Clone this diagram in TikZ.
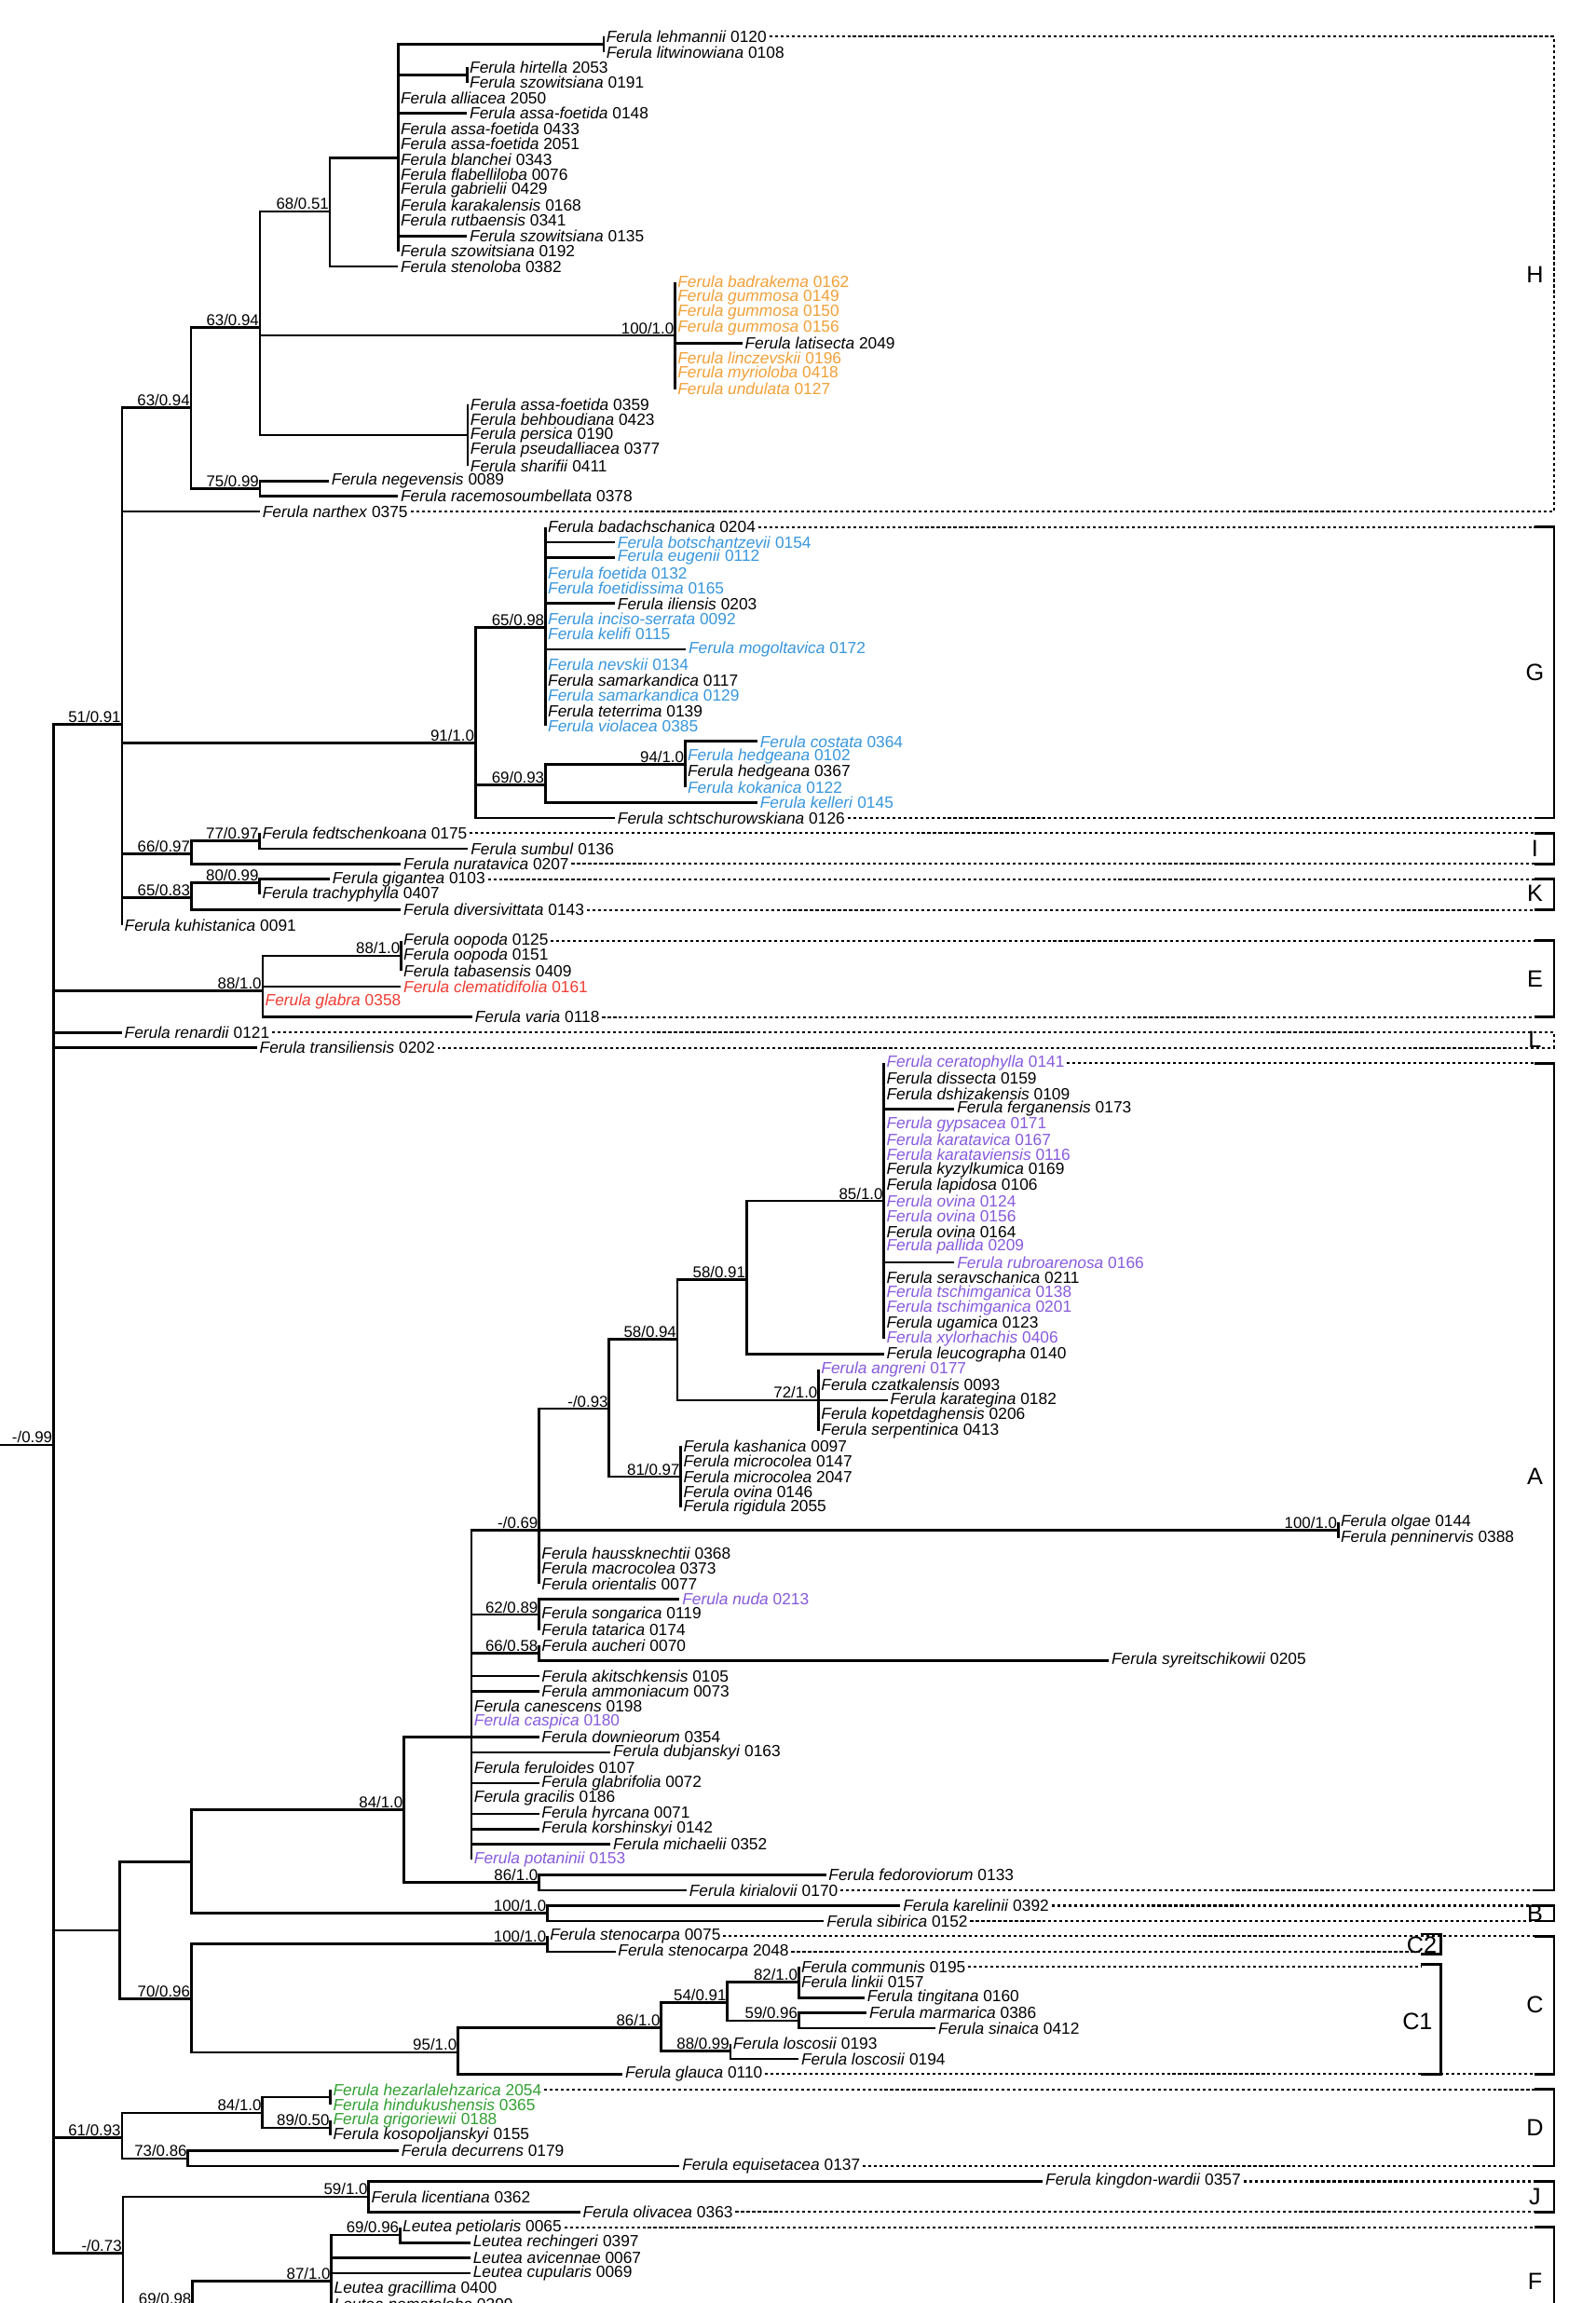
\documentclass[tikz,border=0pt]{standalone}
\usepackage{fontspec}
\usetikzlibrary{calc}
\setmainfont{Liberation Sans}
\definecolor{cor}{RGB}{242,160,55}
\definecolor{cbl}{RGB}{55,150,220}
\definecolor{cpu}{RGB}{135,90,220}
\definecolor{cre}{RGB}{240,60,50}
\definecolor{cgr}{RGB}{50,160,50}
\tikzset{
  leaf/.style={anchor=west,inner xsep=1.6pt,inner ysep=0pt,font=\fontsize{11}{11}\selectfont},
  bsl/.style={anchor=south east,inner xsep=0.6pt,inner ysep=1pt,font=\fontsize{10.7}{10.7}\selectfont},
  br/.style={line width=1.7pt,line join=miter},
  dl/.style={line width=1.3pt,dash pattern=on 2pt off 1.8pt},
  bk/.style={line width=1.8pt,line join=miter},
  grp/.style={font=\fontsize{16}{16}\selectfont,inner sep=0pt}
}
\newcommand\lf[6][black]{\node[leaf,text=#1] (#2) at (#3,{-25-10.43*#4}) {\textit{#5} #6};}
\newcommand\bsv[2]{\node[bsl] at (#1) {#2};}
\begin{document}
\begin{tikzpicture}[x=1pt,y=1pt]
\useasboundingbox (0,0) rectangle (1086,-1568);
\fill[white] (0,0) rectangle (1086,-1568);
\clip (0,0) rectangle (1086,-1568);
% ---------- internal nodes
\coordinate (r0) at (0,-983.8);
\coordinate (r) at (36.4,-983.8);
\coordinate (c51) at (83,-493);
\coordinate (cH63) at (130,-277.6);
\coordinate (cH63i) at (177,-223);
\coordinate (c68) at (224.6,-144);
\coordinate (cpoly) at (271,-107.6);
\coordinate (cleh) at (411,-30.2);
\coordinate (chirt) at (318,-51.1);
\coordinate (c100o) at (459.5,-228.4);
\coordinate (cassa) at (318.5,-296.2);
\coordinate (c75) at (177,-332.7);
\coordinate (cG91) at (323.6,-505.7);
\coordinate (c65G) at (371.3,-427);
\coordinate (c69G) at (371.3,-534.6);
\coordinate (c94) at (466.4,-520.5);
\coordinate (cI66) at (130.2,-581.5);
\coordinate (c77) at (176.8,-572.6);
\coordinate (cK65) at (130.2,-611);
\coordinate (c80) at (176.8,-601);
\coordinate (cE88) at (178.8,-674.7);
\coordinate (cE88i) at (273,-650.8);
\coordinate (cABC) at (81.7,-1314.2);
\coordinate (cAB) at (130.2,-1267.6);
\coordinate (c84A) at (275,-1232.3);
\coordinate (cApoly) at (321,-1182.7);
\coordinate (c69A) at (367,-1041.9);
\coordinate (c93) at (414.7,-959.1);
\coordinate (c58a) at (461.2,-912);
\coordinate (c58b) at (508.2,-871.1);
\coordinate (c85) at (601.8,-817.7);
\coordinate (c72) at (557.3,-953.3);
\coordinate (c81) at (463.5,-1005.4);
\coordinate (c100A) at (911,-1041.9);
\coordinate (c62) at (367,-1099.3);
\coordinate (c66A) at (367,-1125.4);
\coordinate (c86A) at (367,-1281.8);
\coordinate (cB) at (372.6,-1302.7);
\coordinate (cC70) at (130.2,-1360.7);
\coordinate (cC2) at (372.6,-1323.5);
\coordinate (c95) at (311.7,-1397.3);
\coordinate (c86C) at (450.2,-1380.4);
\coordinate (c54) at (495.2,-1363.4);
\coordinate (c82) at (543.7,-1349.6);
\coordinate (c59C) at (543.7,-1375.7);
\coordinate (c88C) at (497.3,-1396.5);
\coordinate (cD61) at (83,-1455.2);
\coordinate (c84D) at (178.7,-1438.6);
\coordinate (chez) at (225,-1427.8);
\coordinate (c89) at (225,-1448.7);
\coordinate (c73) at (128,-1469.6);
\coordinate (cF73) at (83.7,-1534.1);
\coordinate (c59J) at (251,-1495.7);
\coordinate (c69F) at (131,-1570);
\coordinate (c87) at (225.7,-1553);
\coordinate (c69L) at (272.3,-1521.7);
\coordinate (bx) at (1045,0);
\coordinate (bxr) at (1058,0);
\coordinate (bxc) at (967,0);
\coordinate (bxcr) at (981,0);
% ---------- leaves: H
\lf{L0}{411}{0}{Ferula lehmannii}{0120}
\lf{L1}{411}{1}{Ferula litwinowiana}{0108}
\lf{L2}{318}{2}{Ferula hirtella}{2053}
\lf{L3}{318}{3}{Ferula szowitsiana}{0191}
\lf{L4}{271}{4}{Ferula alliacea}{2050}
\lf{L5}{318}{5}{Ferula assa-foetida}{0148}
\lf{L6}{271}{6}{Ferula assa-foetida}{0433}
\lf{L7}{271}{7}{Ferula assa-foetida}{2051}
\lf{L8}{271}{8}{Ferula blanchei}{0343}
\lf{L9}{271}{9}{Ferula flabelliloba}{0076}
\lf{L10}{271}{10}{Ferula gabrielii}{0429}
\lf{L11}{271}{11}{Ferula karakalensis}{0168}
\lf{L12}{271}{12}{Ferula rutbaensis}{0341}
\lf{L13}{318}{13}{Ferula szowitsiana}{0135}
\lf{L14}{271}{14}{Ferula szowitsiana}{0192}
\lf{L15}{271}{15}{Ferula stenoloba}{0382}
\lf[cor]{L16}{459.5}{16}{Ferula badrakema}{0162}
\lf[cor]{L17}{459.5}{17}{Ferula gummosa}{0149}
\lf[cor]{L18}{459.5}{18}{Ferula gummosa}{0150}
\lf[cor]{L19}{459.5}{19}{Ferula gummosa}{0156}
\lf{L20}{505.4}{20}{Ferula latisecta}{2049}
\lf[cor]{L21}{459.5}{21}{Ferula linczevskii}{0196}
\lf[cor]{L22}{459.5}{22}{Ferula myrioloba}{0418}
\lf[cor]{L23}{459.5}{23}{Ferula undulata}{0127}
\lf{L24}{318.5}{24}{Ferula assa-foetida}{0359}
\lf{L25}{318.5}{25}{Ferula behboudiana}{0423}
\lf{L26}{318.5}{26}{Ferula persica}{0190}
\lf{L27}{318.5}{27}{Ferula pseudalliacea}{0377}
\lf{L28}{318.5}{28}{Ferula sharifii}{0411}
\lf{L29}{224}{29}{Ferula negevensis}{0089}
\lf{L30}{271}{30}{Ferula racemosoumbellata}{0378}
\lf{L31}{177}{31}{Ferula narthex}{0375}
% G
\lf{L32}{371.3}{32}{Ferula badachschanica}{0204}
\lf[cbl]{L33}{418.7}{33}{Ferula botschantzevii}{0154}
\lf[cbl]{L34}{418.7}{34}{Ferula eugenii}{0112}
\lf[cbl]{L35}{371.3}{35}{Ferula foetida}{0132}
\lf[cbl]{L36}{371.3}{36}{Ferula foetidissima}{0165}
\lf{L37}{418.7}{37}{Ferula iliensis}{0203}
\lf[cbl]{L38}{371.3}{38}{Ferula inciso-serrata}{0092}
\lf[cbl]{L39}{371.3}{39}{Ferula kelifi}{0115}
\lf[cbl]{L40}{467}{40}{Ferula mogoltavica}{0172}
\lf[cbl]{L41}{371.3}{41}{Ferula nevskii}{0134}
\lf{L42}{371.3}{42}{Ferula samarkandica}{0117}
\lf[cbl]{L43}{371.3}{43}{Ferula samarkandica}{0129}
\lf{L44}{371.3}{44}{Ferula teterrima}{0139}
\lf[cbl]{L45}{371.3}{45}{Ferula violacea}{0385}
\lf[cbl]{L46}{515.7}{46}{Ferula costata}{0364}
\lf[cbl]{L47}{466.4}{47}{Ferula hedgeana}{0102}
\lf{L48}{466.4}{48}{Ferula hedgeana}{0367}
\lf[cbl]{L49}{466.4}{49}{Ferula kokanica}{0122}
\lf[cbl]{L50}{515.7}{50}{Ferula kelleri}{0145}
\lf{L51}{418.7}{51}{Ferula schtschurowskiana}{0126}
% I, K
\lf{L52}{176.8}{52}{Ferula fedtschenkoana}{0175}
\lf{L53}{318.7}{53}{Ferula sumbul}{0136}
\lf{L54}{273}{54}{Ferula nuratavica}{0207}
\lf{L55}{224.5}{55}{Ferula gigantea}{0103}
\lf{L56}{176.8}{56}{Ferula trachyphylla}{0407}
\lf{L57}{273}{57}{Ferula diversivittata}{0143}
\lf{L58}{83}{58}{Ferula kuhistanica}{0091}
% E
\lf{L59}{273}{59}{Ferula oopoda}{0125}
\lf{L60}{273}{60}{Ferula oopoda}{0151}
\lf{L61}{273}{61}{Ferula tabasensis}{0409}
\lf[cre]{L62}{273}{62}{Ferula clematidifolia}{0161}
\lf[cre]{L63}{178.8}{63}{Ferula glabra}{0358}
\lf{L64}{321.6}{64}{Ferula varia}{0118}
\lf{L65}{83}{65}{Ferula renardii}{0121}
\lf{L66}{175}{66}{Ferula transiliensis}{0202}
% A
\lf[cpu]{L67}{601.8}{67}{Ferula ceratophylla}{0141}
\lf{L68}{601.8}{68}{Ferula dissecta}{0159}
\lf{L69}{601.8}{69}{Ferula dshizakensis}{0109}
\lf{L70}{649.8}{70}{Ferula ferganensis}{0173}
\lf[cpu]{L71}{601.8}{71}{Ferula gypsacea}{0171}
\lf[cpu]{L72}{601.8}{72}{Ferula karatavica}{0167}
\lf[cpu]{L73}{601.8}{73}{Ferula karataviensis}{0116}
\lf{L74}{601.8}{74}{Ferula kyzylkumica}{0169}
\lf{L75}{601.8}{75}{Ferula lapidosa}{0106}
\lf[cpu]{L76}{601.8}{76}{Ferula ovina}{0124}
\lf[cpu]{L77}{601.8}{77}{Ferula ovina}{0156}
\lf{L78}{601.8}{78}{Ferula ovina}{0164}
\lf[cpu]{L79}{601.8}{79}{Ferula pallida}{0209}
\lf[cpu]{L80}{649.8}{80}{Ferula rubroarenosa}{0166}
\lf{L81}{601.8}{81}{Ferula seravschanica}{0211}
\lf[cpu]{L82}{601.8}{82}{Ferula tschimganica}{0138}
\lf[cpu]{L83}{601.8}{83}{Ferula tschimganica}{0201}
\lf{L84}{601.8}{84}{Ferula ugamica}{0123}
\lf[cpu]{L85}{601.8}{85}{Ferula xylorhachis}{0406}
\lf{L86}{601.8}{86}{Ferula leucographa}{0140}
\lf[cpu]{L87}{557.3}{87}{Ferula angreni}{0177}
\lf{L88}{557.3}{88}{Ferula czatkalensis}{0093}
\lf{L89}{604.3}{89}{Ferula karategina}{0182}
\lf{L90}{557.3}{90}{Ferula kopetdaghensis}{0206}
\lf{L91}{557.3}{91}{Ferula serpentinica}{0413}
\lf{L92}{463.5}{92}{Ferula kashanica}{0097}
\lf{L93}{463.5}{93}{Ferula microcolea}{0147}
\lf{L94}{463.5}{94}{Ferula microcolea}{2047}
\lf{L95}{463.5}{95}{Ferula ovina}{0146}
\lf{L96}{463.5}{96}{Ferula rigidula}{2055}
\lf{L97}{911}{97}{Ferula olgae}{0144}
\lf{L98}{911}{98}{Ferula penninervis}{0388}
\lf{L99}{367}{99}{Ferula haussknechtii}{0368}
\lf{L100}{367}{100}{Ferula macrocolea}{0373}
\lf{L101}{367}{101}{Ferula orientalis}{0077}
\lf[cpu]{L102}{462.7}{102}{Ferula nuda}{0213}
\lf{L103}{367}{103}{Ferula songarica}{0119}
\lf{L104}{367}{104}{Ferula tatarica}{0174}
\lf{L105}{367}{105}{Ferula aucheri}{0070}
\lf{L106}{755}{106}{Ferula syreitschikowii}{0205}
\lf{L107}{367}{107}{Ferula akitschkensis}{0105}
\lf{L108}{367}{108}{Ferula ammoniacum}{0073}
\lf{L109}{321}{109}{Ferula canescens}{0198}
\lf[cpu]{L110}{321}{110}{Ferula caspica}{0180}
\lf{L111}{367}{111}{Ferula downieorum}{0354}
\lf{L112}{415.6}{112}{Ferula dubjanskyi}{0163}
\lf{L113}{321}{113}{Ferula feruloides}{0107}
\lf{L114}{367}{114}{Ferula glabrifolia}{0072}
\lf{L115}{321}{115}{Ferula gracilis}{0186}
\lf{L116}{367}{116}{Ferula hyrcana}{0071}
\lf{L117}{367}{117}{Ferula korshinskyi}{0142}
\lf{L118}{415.6}{118}{Ferula michaelii}{0352}
\lf[cpu]{L119}{321}{119}{Ferula potaninii}{0153}
\lf{L120}{562.4}{120}{Ferula fedoroviorum}{0133}
\lf{L121}{467.5}{121}{Ferula kirialovii}{0170}
% B
\lf{L122}{613}{122}{Ferula karelinii}{0392}
\lf{L123}{561}{123}{Ferula sibirica}{0152}
% C
\lf{L124}{372.6}{124}{Ferula stenocarpa}{0075}
\lf{L125}{419}{125}{Ferula stenocarpa}{2048}
\lf{L126}{543.7}{126}{Ferula communis}{0195}
\lf{L127}{543.7}{127}{Ferula linkii}{0157}
\lf{L128}{588.7}{128}{Ferula tingitana}{0160}
\lf{L129}{590}{129}{Ferula marmarica}{0386}
\lf{L130}{637}{130}{Ferula sinaica}{0412}
\lf{L131}{497.3}{131}{Ferula loscosii}{0193}
\lf{L132}{543.7}{132}{Ferula loscosii}{0194}
\lf{L133}{423.9}{133}{Ferula glauca}{0110}
% D
\lf[cgr]{L134}{225}{134}{Ferula hezarlalehzarica}{2054}
\lf[cgr]{L135}{225}{135}{Ferula hindukushensis}{0365}
\lf[cgr]{L136}{225}{136}{Ferula grigoriewii}{0188}
\lf{L137}{225}{137}{Ferula kosopoljanskyi}{0155}
\lf{L138}{271.5}{138}{Ferula decurrens}{0179}
\lf{L139}{462.7}{139}{Ferula equisetacea}{0137}
% J
\lf{L140}{710}{140}{Ferula kingdon-wardii}{0357}
\lf{L141}{251}{141}{Ferula licentiana}{0362}
\lf{L142}{395}{142}{Ferula olivacea}{0363}
% F
\lf{L143}{272.3}{143}{Leutea petiolaris}{0065}
\lf{L144}{320.3}{144}{Leutea rechingeri}{0397}
\lf{L145}{320.3}{145}{Leutea avicennae}{0067}
\lf{L146}{320.3}{146}{Leutea cupularis}{0069}
\lf{L147}{225.7}{147}{Leutea gracillima}{0400}
\lf{L148}{225.7}{148}{Leutea nematoloba}{0399}
% ---------- branches
\draw[br] (r0) -- (r);
\foreach \c in {c51,cE88,L65.west,L66.west,cABC,cD61,cF73} \draw[br] (r) |- (\c);
\foreach \c in {cH63,L31.west,cG91,cI66,cK65,L58.west} \draw[br] (c51) |- (\c);
\foreach \c in {cH63i,c75} \draw[br] (cH63) |- (\c);
\foreach \c in {c68,c100o,cassa} \draw[br] (cH63i) |- (\c);
\foreach \c in {cpoly,L15.west} \draw[br] (c68) |- (\c);
\foreach \c in {L4,L5,L6,L7,L8,L9,L10,L11,L12,L13,L14} \draw[br] (cpoly) |- (\c.west);
\draw[br] (cpoly) |- (cleh); \draw[br] (cpoly) |- (chirt);
\foreach \c in {L0,L1} \draw[br] (cleh) |- (\c.west);
\foreach \c in {L2,L3} \draw[br] (chirt) |- (\c.west);
\foreach \c in {L16,L17,L18,L19,L20,L21,L22,L23} \draw[br] (c100o) |- (\c.west);
\foreach \c in {L24,L25,L26,L27,L28} \draw[br] (cassa) |- (\c.west);
\foreach \c in {L29,L30} \draw[br] (c75) |- (\c.west);
\foreach \c in {c65G,c69G,L51.west} \draw[br] (cG91) |- (\c);
\foreach \c in {L32,L33,L34,L35,L36,L37,L38,L39,L40,L41,L42,L43,L44,L45} \draw[br] (c65G) |- (\c.west);
\foreach \c in {c94,L50.west} \draw[br] (c69G) |- (\c);
\foreach \c in {L46,L47,L48,L49} \draw[br] (c94) |- (\c.west);
\foreach \c in {c77,L54.west} \draw[br] (cI66) |- (\c);
\foreach \c in {L52,L53} \draw[br] (c77) |- (\c.west);
\foreach \c in {c80,L57.west} \draw[br] (cK65) |- (\c);
\foreach \c in {L55,L56} \draw[br] (c80) |- (\c.west);
\foreach \c in {cE88i,L62.west,L63.west,L64.west} \draw[br] (cE88) |- (\c);
\foreach \c in {L59,L60,L61} \draw[br] (cE88i) |- (\c.west);
\foreach \c in {cAB,cC70} \draw[br] (cABC) |- (\c);
\foreach \c in {c84A,cB} \draw[br] (cAB) |- (\c);
\foreach \c in {cApoly,c86A} \draw[br] (c84A) |- (\c);
\foreach \c in {c69A,c62,c66A,L107.west,L108.west,L109.west,L110.west,L111.west,L112.west,L113.west,L114.west,L115.west,L116.west,L117.west,L118.west,L119.west} \draw[br] (cApoly) |- (\c);
\foreach \c in {c93,c100A,L99.west,L100.west,L101.west} \draw[br] (c69A) |- (\c);
\foreach \c in {c58a,c81} \draw[br] (c93) |- (\c);
\foreach \c in {c58b,c72} \draw[br] (c58a) |- (\c);
\foreach \c in {c85,L86.west} \draw[br] (c58b) |- (\c);
\foreach \c in {L67,L68,L69,L70,L71,L72,L73,L74,L75,L76,L77,L78,L79,L80,L81,L82,L83,L84,L85} \draw[br] (c85) |- (\c.west);
\foreach \c in {L87,L88,L89,L90,L91} \draw[br] (c72) |- (\c.west);
\foreach \c in {L92,L93,L94,L95,L96} \draw[br] (c81) |- (\c.west);
\foreach \c in {L97,L98} \draw[br] (c100A) |- (\c.west);
\foreach \c in {L102,L103,L104} \draw[br] (c62) |- (\c.west);
\foreach \c in {L105,L106} \draw[br] (c66A) |- (\c.west);
\foreach \c in {L120,L121} \draw[br] (c86A) |- (\c.west);
\foreach \c in {L122,L123} \draw[br] (cB) |- (\c.west);
\foreach \c in {cC2,c95} \draw[br] (cC70) |- (\c);
\foreach \c in {L124,L125} \draw[br] (cC2) |- (\c.west);
\foreach \c in {c86C,L133.west} \draw[br] (c95) |- (\c);
\foreach \c in {c54,c88C} \draw[br] (c86C) |- (\c);
\foreach \c in {c82,c59C} \draw[br] (c54) |- (\c);
\foreach \c in {L126,L127,L128} \draw[br] (c82) |- (\c.west);
\foreach \c in {L129,L130} \draw[br] (c59C) |- (\c.west);
\foreach \c in {L131,L132} \draw[br] (c88C) |- (\c.west);
\foreach \c in {c84D,c73} \draw[br] (cD61) |- (\c);
\foreach \c in {chez,c89} \draw[br] (c84D) |- (\c);
\foreach \c in {L134,L135} \draw[br] (chez) |- (\c.west);
\foreach \c in {L136,L137} \draw[br] (c89) |- (\c.west);
\foreach \c in {L138,L139} \draw[br] (c73) |- (\c.west);
\foreach \c in {c59J,c69F} \draw[br] (cF73) |- (\c);
\foreach \c in {L140,L141,L142} \draw[br] (c59J) |- (\c.west);
\draw[br] (c69F) |- (c87);
\foreach \c in {c69L,L145.west,L146.west,L147.west,L148.west} \draw[br] (c87) |- (\c);
\draw[br] (c87) -- ++(0,-30);
\foreach \c in {L143,L144} \draw[br] (c69L) |- (\c.west);
% ---------- support values
\bsv{r}{-/0.99}
\bsv{c51}{51/0.91}
\bsv{cH63}{63/0.94}
\bsv{cH63i}{63/0.94}
\bsv{c68}{68/0.51}
\bsv{c100o}{100/1.0}
\bsv{c75}{75/0.99}
\bsv{cG91}{91/1.0}
\bsv{c65G}{65/0.98}
\bsv{c69G}{69/0.93}
\bsv{c94}{94/1.0}
\bsv{cI66}{66/0.97}
\bsv{c77}{77/0.97}
\bsv{cK65}{65/0.83}
\bsv{c80}{80/0.99}
\bsv{cE88}{88/1.0}
\bsv{cE88i}{88/1.0}
\bsv{c84A}{84/1.0}
\bsv{c69A}{-/0.69}
\bsv{c93}{-/0.93}
\bsv{c58a}{58/0.94}
\bsv{c58b}{58/0.91}
\bsv{c85}{85/1.0}
\bsv{c72}{72/1.0}
\bsv{c81}{81/0.97}
\bsv{c100A}{100/1.0}
\bsv{c62}{62/0.89}
\bsv{c66A}{66/0.58}
\bsv{c86A}{86/1.0}
\bsv{cB}{100/1.0}
\bsv{cC70}{70/0.96}
\bsv{cC2}{100/1.0}
\bsv{c95}{95/1.0}
\bsv{c86C}{86/1.0}
\bsv{c54}{54/0.91}
\bsv{c82}{82/1.0}
\bsv{c59C}{59/0.96}
\bsv{c88C}{88/0.99}
\bsv{cD61}{61/0.93}
\bsv{c84D}{84/1.0}
\bsv{c89}{89/0.50}
\bsv{c73}{73/0.86}
\bsv{cF73}{-/0.73}
\bsv{c59J}{59/1.0}
\bsv{c69L}{69/0.96}
\bsv{c87}{87/1.0}
\bsv{c69F}{69/0.98}
% ---------- dotted guides and brackets
\draw[dl] (L0.east) -- (L0.east -| bxr) -- (L31.east -| bxr) -- (L31.east);
\draw[dl] (L65.east) -- (L65.east -| bxr) -- (L66.east -| bxr) -- (L66.east);
\foreach \c in {L32,L51,L52,L54,L55,L57,L59,L64,L67,L121,L122,L123,L124,L133,L134,L139,L140,L142,L143}
  \draw[dl] (\c.east) -- (\c.east -| bx);
\foreach \c in {L125,L126} \draw[dl] (\c.east) -- (\c.east -| bxc);
\foreach \a/\b in {L32/L51,L52/L54,L55/L57,L59/L64,L67/L121,L122/L123,L124/L133,L134/L139,L140/L142}
  \draw[bk] (\a.east -| bx) -- (\a.east -| bxr) -- (\b.east -| bxr) -- (\b.east -| bx);
\draw[bk] (L143.east -| bx) -- (L143.east -| bxr) -- ++(0,-60);
\draw[bk] ($(L124.east -| bxc)+(0,1.5)$) -- ($(L124.east -| bxcr)+(0,1.5)$) -- ($(L125.east -| bxcr)+(0,-1.5)$) -- ($(L125.east -| bxc)+(0,-1.5)$);
\draw[bk] ($(L126.east -| bxc)+(0,1.5)$) -- ($(L126.east -| bxcr)+(0,1.5)$) -- (L133.east -| bxcr) -- (L133.east -| bxc);
% ---------- group letters
\node[grp] (gH) at (1045,-187) {H};
\node[grp] (gG) at (1045,-458) {G};
\node[grp] (gI) at (1045,-578) {I};
\node[grp] (gK) at (1045,-608) {K};
\node[grp] (gE) at (1045,-666.5) {E};
\node[grp] (gL) at (1045,-708) {L};
\node[grp] (gA) at (1045,-1005) {A};
\node[grp] (gB) at (1045,-1302.7) {B};
\node[grp] (gC) at (1045,-1365) {C};
\node[grp] (gD) at (1045,-1448.7) {D};
\node[grp] (gJ) at (1045,-1495.7) {J};
\node[grp] (gF) at (1045,-1553) {F};
\node[grp] (gC2) at (968,-1324.2) {C2};
\node[grp] (gC1) at (965,-1376.6) {C1};
\end{tikzpicture}
\end{document}
